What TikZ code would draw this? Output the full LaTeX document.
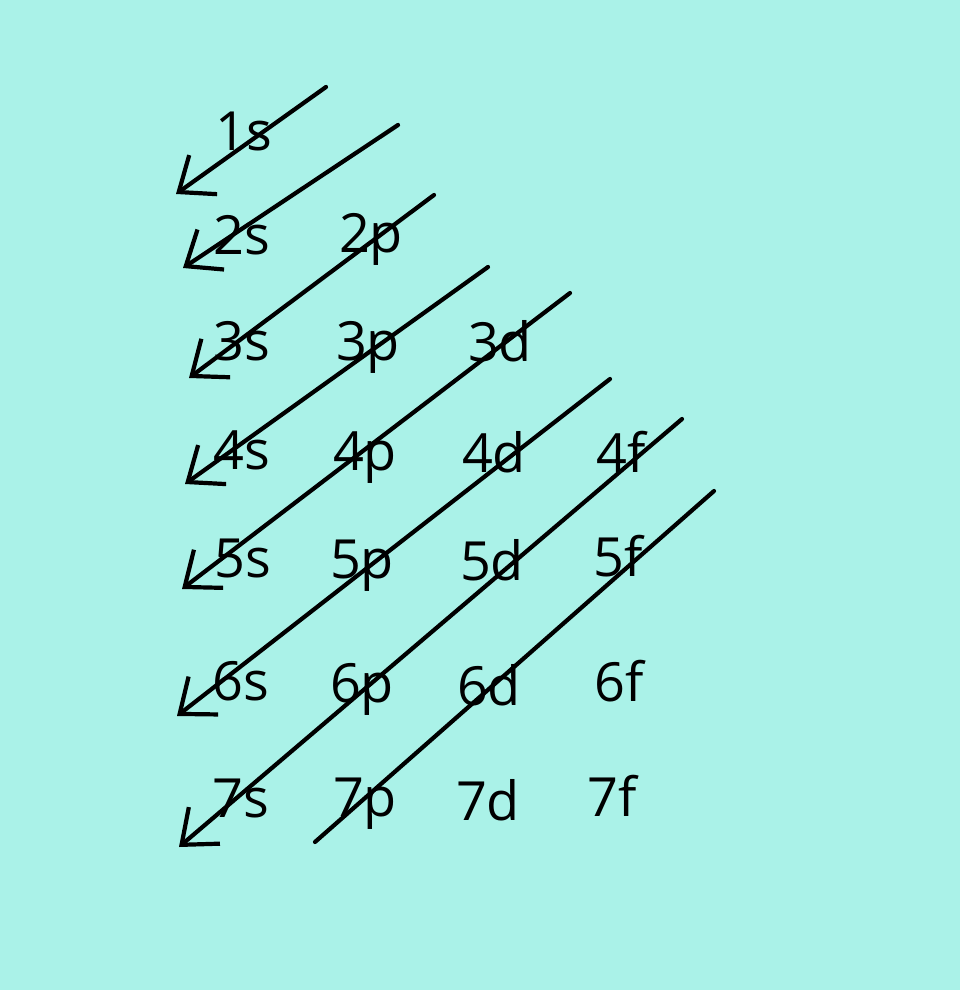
\documentclass[tikz,border=0pt]{standalone}
\usepackage{fontspec}
\setmainfont{Open Sans}
\usetikzlibrary{arrows.meta}
\definecolor{bgc}{RGB}{170,242,232}
\tikzset{
  lbl/.style={font=\fontsize{54}{60}\selectfont, text=black, inner sep=0pt, anchor=center},
  diag/.style={line width=4.2pt, black, line cap=round, -{Straight Barb[length=30pt,width=48pt,line width=4.2pt]}},
  diagplain/.style={line width=4.2pt, black, line cap=round}
}
\begin{document}
\begin{tikzpicture}[x=1pt,y=-1pt]
\fill[bgc] (0,0) rectangle (960,990);
\useasboundingbox (0,0) rectangle (960,990);
% labels
\node[lbl] (s1) at (244,131) {1s};
\node[lbl] (s2) at (242,235) {2s};
\node[lbl] (p2) at (371,239) {2p};
\node[lbl] (s3) at (242,341) {3s};
\node[lbl] (p3) at (368,347) {3p};
\node[lbl] (d3) at (500,341) {3d};
\node[lbl] (s4) at (242,450) {4s};
\node[lbl] (p4) at (365,458) {4p};
\node[lbl] (d4) at (494,452) {4d};
\node[lbl] (f4) at (621,452) {4f};
\node[lbl] (s5) at (243,558) {5s};
\node[lbl] (p5) at (362,566) {5p};
\node[lbl] (d5) at (492,560) {5d};
\node[lbl] (f5) at (618,556) {5f};
\node[lbl] (s6) at (241,681) {6s};
\node[lbl] (p6) at (362,689) {6p};
\node[lbl] (d6) at (489,685) {6d};
\node[lbl] (f6) at (619,681) {6f};
\node[lbl] (s7) at (241,798) {7s};
\node[lbl] (p7) at (365,804) {7p};
\node[lbl] (d7) at (488,800) {7d};
\node[lbl] (f7) at (612,796) {7f};
% arrow end points
\coordinate (a1) at (326,87);  \coordinate (b1) at (176,194);
\coordinate (a2) at (398,125); \coordinate (b2) at (183,268);
\coordinate (a3) at (434,195); \coordinate (b3) at (189,378);
\coordinate (a4) at (488,267); \coordinate (b4) at (185,484);
\coordinate (a5) at (570,293); \coordinate (b5) at (182,589);
\coordinate (a6) at (610,379); \coordinate (b6) at (177,716);
\coordinate (a7) at (682,419); \coordinate (b7) at (179,847);
\coordinate (a8) at (714,491); \coordinate (b8) at (315,842);
\foreach \i in {1,...,7} {\draw[diag] (a\i) -- (b\i);}
\draw[diagplain] (a8) -- (b8);
\end{tikzpicture}
\end{document}
